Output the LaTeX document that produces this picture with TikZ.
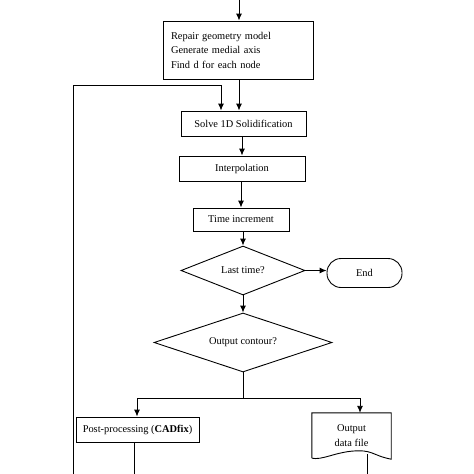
\documentclass[tikz,border=0pt]{standalone}
\usepackage{fontspec}
\setmainfont{Liberation Serif}
\usetikzlibrary{shapes.geometric,arrows.meta}
\begin{document}
\begin{tikzpicture}[x=1pt,y=-1pt,
  every node/.style={font=\fontsize{10.4pt}{14.5pt}\selectfont},
  box/.style={draw,line width=0.9pt,rectangle,inner sep=0pt},
  dia/.style={draw,line width=0.9pt,diamond,inner sep=0pt},
  conn/.style={line width=0.9pt},
  arr/.style={line width=0.9pt,-{Latex[length=7pt,width=6pt]}}]
\useasboundingbox (0,0) rectangle (474,474);
\node[box,minimum width=150pt,minimum height=58pt,text width=134pt,align=left] (repair) at (238,50)
  {Repair geometry model\\Generate medial axis\\Find d for each node};
\node[box,minimum width=125pt,minimum height=25pt] (solve) at (243.5,123.5) {Solve 1D Solidification};
\node[box,minimum width=126pt,minimum height=25pt] (interp) at (242,168.5) {Interpolation};
\node[box,minimum width=96pt,minimum height=23pt] (time) at (241,219.5) {Time increment};
\node[dia,minimum width=124pt,minimum height=49pt,aspect=2.53] (last) at (243,270.5) {Last time?};
\node[draw,line width=0.9pt,rounded corners=14pt,minimum width=75pt,minimum height=29pt] (end) at (364.5,273) {End};
\node[dia,minimum width=178pt,minimum height=59pt,aspect=3.0] (outc) at (243,342.5) {Output contour?};
\node[box,minimum width=123pt,minimum height=25pt] (post) at (137.5,429.5) {Post-processing (\textbf{CADfix})};
\node[minimum width=79pt,minimum height=45pt,inner sep=0pt,align=center] (doc) at (351.5,435.5) {Output\\data file};
% document outline
\draw[line width=0.9pt] (doc.south west) -- (doc.north west) -- (doc.north east) -- ([yshift=-1pt]doc.south east)
  .. controls +(-20,-4) and +(22,-2) .. ([xshift=-40pt,yshift=7pt]doc.south east)
  .. controls +(-18,2) and +(10,2) .. (doc.south west);
\coordinate (top) at (239,0);
\coordinate (loopb) at (73,474);
\coordinate (loopt) at (73,85);
\coordinate (loopr) at (221,85);
\coordinate (split) at (243,398);
\coordinate (pl) at (137,398);
\coordinate (pr) at (360,398);
\coordinate (postb) at (134,474);
\coordinate (docb) at (367,474);
\draw[arr] (top) -- (repair.north -| top);
\draw[arr] (repair.south -| top) -- (solve.north -| top);
\draw[arr] (loopb) -- (loopt) -- (loopr) -- (solve.north -| loopr);
\draw[arr] (solve.south -| 242,0) -- (interp.north -| 242,0);
\draw[arr] (interp.south -| 241,0) -- (time.north -| 241,0);
\draw[arr] (time.south -| last.north) -- (last.north);
\draw[arr] (last.east) -- (end.west |- last.east);
\draw[arr] (last.south) -- (outc.north);
\draw[conn] (outc.south) -- (split);
\draw[arr] (split) -- (pl) -- (post.north -| pl);
\draw[arr] (split) -- (pr) -- (doc.north -| pr);
\draw[conn] (post.south -| postb) -- (postb);
\draw[conn] ([yshift=4pt]doc.south -| docb) -- (docb);
\end{tikzpicture}
\end{document}
